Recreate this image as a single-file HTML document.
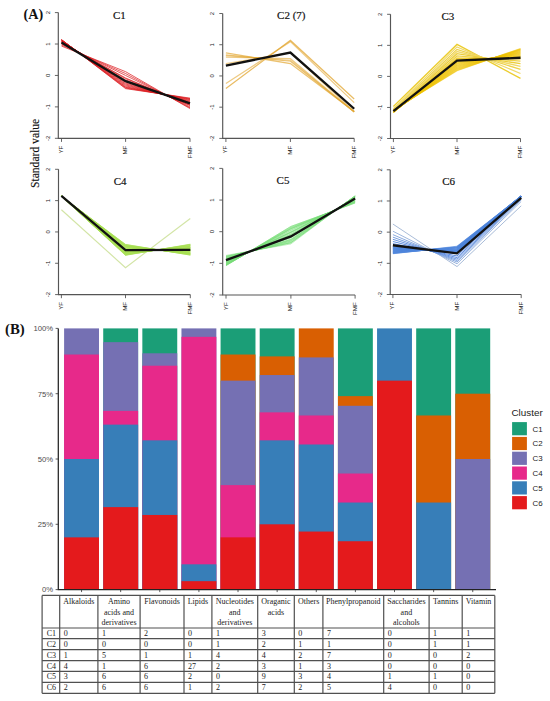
<!DOCTYPE html><html><head><meta charset="utf-8"><style>html,body{margin:0;padding:0;background:#fff;}svg{display:block;}</style></head><body>
<svg width="550" height="701" viewBox="0 0 550 701">
<rect width="550" height="701" fill="#fff"/>
<text x="23.6" y="19.2" font-family='"Liberation Serif", serif' font-weight="bold" font-size="14.2" fill="#111">(A)</text>
<text transform="translate(39.3 153.4) rotate(-90)" text-anchor="middle" font-family='"Liberation Serif", serif' font-size="11.6" fill="#111" stroke="#111" stroke-width="0.15">Standard value</text>
<polyline points="61.5,46.08 125.6,71.68 190,108.59" fill="none" stroke="#dc1a1e" stroke-opacity="0.85" stroke-width="0.85"/>
<polyline points="61.5,45.01 125.6,73.56 190,107.78" fill="none" stroke="#dc1a1e" stroke-opacity="0.85" stroke-width="0.85"/>
<polyline points="61.5,44.02 125.6,75.45 190,106.88" fill="none" stroke="#dc1a1e" stroke-opacity="0.85" stroke-width="0.85"/>
<polyline points="61.5,42.84 125.6,77.96 190,105.54" fill="none" stroke="#dc1a1e" stroke-opacity="0.85" stroke-width="0.85"/>
<polyline points="61.5,42.06 125.6,79.85 190,104.44" fill="none" stroke="#dc1a1e" stroke-opacity="0.85" stroke-width="0.85"/>
<polyline points="61.5,41.47 125.6,81.42 190,103.46" fill="none" stroke="#dc1a1e" stroke-opacity="0.85" stroke-width="0.85"/>
<polyline points="61.5,40.94 125.6,82.99 190,102.42" fill="none" stroke="#dc1a1e" stroke-opacity="0.85" stroke-width="0.85"/>
<polyline points="61.5,40.65 125.6,83.93 190,101.76" fill="none" stroke="#dc1a1e" stroke-opacity="0.85" stroke-width="0.85"/>
<polyline points="61.5,40.39 125.6,84.88 190,101.08" fill="none" stroke="#dc1a1e" stroke-opacity="0.85" stroke-width="0.85"/>
<polyline points="61.5,40.15 125.6,85.82 190,100.38" fill="none" stroke="#dc1a1e" stroke-opacity="0.85" stroke-width="0.85"/>
<polyline points="61.5,39.93 125.6,86.76 190,99.65" fill="none" stroke="#dc1a1e" stroke-opacity="0.85" stroke-width="0.85"/>
<polyline points="61.5,39.8 125.6,87.39 190,99.15" fill="none" stroke="#dc1a1e" stroke-opacity="0.85" stroke-width="0.85"/>
<polyline points="61.5,39.69 125.6,88.02 190,98.64" fill="none" stroke="#dc1a1e" stroke-opacity="0.85" stroke-width="0.85"/>
<polyline points="61.5,39.58 125.6,88.65 190,98.12" fill="none" stroke="#dc1a1e" stroke-opacity="0.85" stroke-width="0.85"/>
<polyline points="61.5,41.36 125.6,81.73 190,103.26" fill="none" stroke="#dc1a1e" stroke-opacity="0.85" stroke-width="0.85"/>
<polyline points="61.5,42.57 125.6,78.59 190,105.19" fill="none" stroke="#dc1a1e" stroke-opacity="0.85" stroke-width="0.85"/>
<polyline points="61.5,42.45 125.6,81.11 190,103.42" fill="none" stroke="#111" stroke-width="2.3" stroke-linejoin="miter"/>
<path d="M58.3 12.6 V138.3 H190" fill="none" stroke="#555555" stroke-width="1.15"/>
<path d="M54.9 12.6 H58.3" stroke="#555555" stroke-width="0.9"/>
<text transform="translate(49.8 12.6) rotate(-90)" text-anchor="middle" font-family='"Liberation Sans", sans-serif' font-size="6" fill="#222">2</text>
<path d="M54.9 44.03 H58.3" stroke="#555555" stroke-width="0.9"/>
<text transform="translate(49.8 44.03) rotate(-90)" text-anchor="middle" font-family='"Liberation Sans", sans-serif' font-size="6" fill="#222">1</text>
<path d="M54.9 75.45 H58.3" stroke="#555555" stroke-width="0.9"/>
<text transform="translate(49.8 75.45) rotate(-90)" text-anchor="middle" font-family='"Liberation Sans", sans-serif' font-size="6" fill="#222">0</text>
<path d="M54.9 106.88 H58.3" stroke="#555555" stroke-width="0.9"/>
<text transform="translate(49.8 106.88) rotate(-90)" text-anchor="middle" font-family='"Liberation Sans", sans-serif' font-size="6" fill="#222">-1</text>
<path d="M54.9 138.3 H58.3" stroke="#555555" stroke-width="0.9"/>
<text transform="translate(49.8 138.3) rotate(-90)" text-anchor="middle" font-family='"Liberation Sans", sans-serif' font-size="6" fill="#222">-2</text>
<path d="M61.5 138.3 V141.9" stroke="#555555" stroke-width="0.9"/>
<text transform="translate(63 145.6) rotate(-90)" text-anchor="end" font-family='"Liberation Sans", sans-serif' font-size="6.2" fill="#222">YF</text>
<path d="M125.6 138.3 V141.9" stroke="#555555" stroke-width="0.9"/>
<text transform="translate(127.1 145.6) rotate(-90)" text-anchor="end" font-family='"Liberation Sans", sans-serif' font-size="6.2" fill="#222">MF</text>
<path d="M190 138.3 V141.9" stroke="#555555" stroke-width="0.9"/>
<text transform="translate(191.5 145.6) rotate(-90)" text-anchor="end" font-family='"Liberation Sans", sans-serif' font-size="6.2" fill="#222">FMF</text>
<text x="119.3" y="19" text-anchor="middle" font-family='"Liberation Serif", serif' font-size="11" fill="#111" stroke="#111" stroke-width="0.18">C1</text>
<polyline points="225.9,88.41 290.4,40.42 354.2,99.02" fill="none" stroke="#e2a630" stroke-opacity="0.75" stroke-width="1.25"/>
<polyline points="225.9,83.56 290.4,41.62 354.2,102.66" fill="none" stroke="#e2a630" stroke-opacity="0.6" stroke-width="1.25"/>
<polyline points="225.9,52.8 290.4,63.59 354.2,111.46" fill="none" stroke="#e2a630" stroke-opacity="0.7" stroke-width="1.25"/>
<polyline points="225.9,54.79 290.4,61.25 354.2,111.81" fill="none" stroke="#e2a630" stroke-opacity="0.6" stroke-width="1.25"/>
<polyline points="225.9,57.19 290.4,58.66 354.2,112" fill="none" stroke="#e2a630" stroke-opacity="0.6" stroke-width="1.25"/>
<polyline points="225.9,63.68 290.4,52.72 354.2,111.45" fill="none" stroke="#e2a630" stroke-opacity="0.55" stroke-width="1.25"/>
<polyline points="225.9,55.67 290.4,60.27 354.2,111.91" fill="none" stroke="#e2a630" stroke-opacity="0.5" stroke-width="1.25"/>
<polyline points="225.9,65.65 290.4,52.53 354.2,108.74" fill="none" stroke="#111" stroke-width="2.3" stroke-linejoin="miter"/>
<path d="M222.7 13.5 V138.4 H354.2" fill="none" stroke="#555555" stroke-width="1.15"/>
<path d="M219.3 13.5 H222.7" stroke="#555555" stroke-width="0.9"/>
<text transform="translate(214.2 13.5) rotate(-90)" text-anchor="middle" font-family='"Liberation Sans", sans-serif' font-size="6" fill="#222">2</text>
<path d="M219.3 44.73 H222.7" stroke="#555555" stroke-width="0.9"/>
<text transform="translate(214.2 44.73) rotate(-90)" text-anchor="middle" font-family='"Liberation Sans", sans-serif' font-size="6" fill="#222">1</text>
<path d="M219.3 75.95 H222.7" stroke="#555555" stroke-width="0.9"/>
<text transform="translate(214.2 75.95) rotate(-90)" text-anchor="middle" font-family='"Liberation Sans", sans-serif' font-size="6" fill="#222">0</text>
<path d="M219.3 107.18 H222.7" stroke="#555555" stroke-width="0.9"/>
<text transform="translate(214.2 107.18) rotate(-90)" text-anchor="middle" font-family='"Liberation Sans", sans-serif' font-size="6" fill="#222">-1</text>
<path d="M219.3 138.4 H222.7" stroke="#555555" stroke-width="0.9"/>
<text transform="translate(214.2 138.4) rotate(-90)" text-anchor="middle" font-family='"Liberation Sans", sans-serif' font-size="6" fill="#222">-2</text>
<path d="M225.9 138.4 V142" stroke="#555555" stroke-width="0.9"/>
<text transform="translate(227.4 145.7) rotate(-90)" text-anchor="end" font-family='"Liberation Sans", sans-serif' font-size="6.2" fill="#222">YF</text>
<path d="M290.4 138.4 V142" stroke="#555555" stroke-width="0.9"/>
<text transform="translate(291.9 145.7) rotate(-90)" text-anchor="end" font-family='"Liberation Sans", sans-serif' font-size="6.2" fill="#222">MF</text>
<path d="M354.2 138.4 V142" stroke="#555555" stroke-width="0.9"/>
<text transform="translate(355.7 145.7) rotate(-90)" text-anchor="end" font-family='"Liberation Sans", sans-serif' font-size="6.2" fill="#222">FMF</text>
<text x="291.3" y="19" text-anchor="middle" font-family='"Liberation Serif", serif' font-size="11" fill="#111" stroke="#111" stroke-width="0.18">C2 (7)</text>
<polyline points="393.4,106.43 457,44.42 520.5,78.36" fill="none" stroke="#eccd2e" stroke-opacity="1.0" stroke-width="1.3"/>
<polyline points="393.4,108.8 457,46.9 520.5,73.5" fill="none" stroke="#f0d96a" stroke-opacity="1.0" stroke-width="1.3"/>
<polyline points="393.4,110.32 457,49.39 520.5,69.49" fill="none" stroke="#eed24a" stroke-opacity="1.0" stroke-width="1.3"/>
<polyline points="393.4,111.21 457,51.56 520.5,66.43" fill="none" stroke="#f0d96a" stroke-opacity="1.0" stroke-width="1.3"/>
<polyline points="393.4,111.79 457,53.73 520.5,63.68" fill="none" stroke="#ecce3a" stroke-opacity="1.0" stroke-width="1.3"/>
<polyline points="393.4,112.12 457,55.91 520.5,61.17" fill="none" stroke="#eed24a" stroke-opacity="1.0" stroke-width="1.3"/>
<polyline points="393.4,112.24 457,57.77 520.5,59.19" fill="none" stroke="#eec300" stroke-opacity="0.55" stroke-width="1.1"/>
<polyline points="393.4,112.25 457,58.42 520.5,58.52" fill="none" stroke="#eec300" stroke-opacity="0.55" stroke-width="1.1"/>
<polyline points="393.4,112.25 457,59.07 520.5,57.88" fill="none" stroke="#eec300" stroke-opacity="0.55" stroke-width="1.1"/>
<polyline points="393.4,112.22 457,59.73 520.5,57.25" fill="none" stroke="#eec300" stroke-opacity="0.55" stroke-width="1.1"/>
<polyline points="393.4,112.19 457,60.38 520.5,56.63" fill="none" stroke="#eec300" stroke-opacity="0.55" stroke-width="1.1"/>
<polyline points="393.4,112.14 457,61.03 520.5,56.03" fill="none" stroke="#eec300" stroke-opacity="0.55" stroke-width="1.1"/>
<polyline points="393.4,112.07 457,61.68 520.5,55.45" fill="none" stroke="#eec300" stroke-opacity="0.55" stroke-width="1.1"/>
<polyline points="393.4,111.99 457,62.33 520.5,54.87" fill="none" stroke="#eec300" stroke-opacity="0.55" stroke-width="1.1"/>
<polyline points="393.4,111.9 457,62.99 520.5,54.31" fill="none" stroke="#eec300" stroke-opacity="0.55" stroke-width="1.1"/>
<polyline points="393.4,111.8 457,63.64 520.5,53.76" fill="none" stroke="#eec300" stroke-opacity="0.55" stroke-width="1.1"/>
<polyline points="393.4,111.68 457,64.29 520.5,53.23" fill="none" stroke="#eec300" stroke-opacity="0.55" stroke-width="1.1"/>
<polyline points="393.4,111.55 457,64.94 520.5,52.71" fill="none" stroke="#eec300" stroke-opacity="0.55" stroke-width="1.1"/>
<polyline points="393.4,111.41 457,65.59 520.5,52.2" fill="none" stroke="#eec300" stroke-opacity="0.55" stroke-width="1.1"/>
<polyline points="393.4,111.26 457,66.25 520.5,51.7" fill="none" stroke="#eec300" stroke-opacity="0.55" stroke-width="1.1"/>
<polyline points="393.4,111.09 457,66.9 520.5,51.21" fill="none" stroke="#eec300" stroke-opacity="0.55" stroke-width="1.1"/>
<polyline points="393.4,110.91 457,67.55 520.5,50.74" fill="none" stroke="#eec300" stroke-opacity="0.55" stroke-width="1.1"/>
<polyline points="393.4,110.73 457,68.2 520.5,50.27" fill="none" stroke="#eec300" stroke-opacity="0.55" stroke-width="1.1"/>
<polyline points="393.4,110.53 457,68.85 520.5,49.82" fill="none" stroke="#eec300" stroke-opacity="0.55" stroke-width="1.1"/>
<polyline points="393.4,110.32 457,69.51 520.5,49.38" fill="none" stroke="#eec300" stroke-opacity="0.55" stroke-width="1.1"/>
<polyline points="393.4,110.1 457,70.16 520.5,48.94" fill="none" stroke="#eec300" stroke-opacity="0.55" stroke-width="1.1"/>
<polyline points="393.4,109.86 457,70.81 520.5,48.52" fill="none" stroke="#eec300" stroke-opacity="0.55" stroke-width="1.1"/>
<polyline points="393.4,111.18 457,60.56 520.5,57.77" fill="none" stroke="#111" stroke-width="2.3" stroke-linejoin="miter"/>
<path d="M390.5 14.3 V138.5 H520.5" fill="none" stroke="#555555" stroke-width="1.15"/>
<path d="M387.1 14.3 H390.5" stroke="#555555" stroke-width="0.9"/>
<text transform="translate(382 14.3) rotate(-90)" text-anchor="middle" font-family='"Liberation Sans", sans-serif' font-size="6" fill="#222">2</text>
<path d="M387.1 45.35 H390.5" stroke="#555555" stroke-width="0.9"/>
<text transform="translate(382 45.35) rotate(-90)" text-anchor="middle" font-family='"Liberation Sans", sans-serif' font-size="6" fill="#222">1</text>
<path d="M387.1 76.4 H390.5" stroke="#555555" stroke-width="0.9"/>
<text transform="translate(382 76.4) rotate(-90)" text-anchor="middle" font-family='"Liberation Sans", sans-serif' font-size="6" fill="#222">0</text>
<path d="M387.1 107.45 H390.5" stroke="#555555" stroke-width="0.9"/>
<text transform="translate(382 107.45) rotate(-90)" text-anchor="middle" font-family='"Liberation Sans", sans-serif' font-size="6" fill="#222">-1</text>
<path d="M387.1 138.5 H390.5" stroke="#555555" stroke-width="0.9"/>
<text transform="translate(382 138.5) rotate(-90)" text-anchor="middle" font-family='"Liberation Sans", sans-serif' font-size="6" fill="#222">-2</text>
<path d="M393.4 138.5 V142.1" stroke="#555555" stroke-width="0.9"/>
<text transform="translate(394.9 145.8) rotate(-90)" text-anchor="end" font-family='"Liberation Sans", sans-serif' font-size="6.2" fill="#222">YF</text>
<path d="M457 138.5 V142.1" stroke="#555555" stroke-width="0.9"/>
<text transform="translate(458.5 145.8) rotate(-90)" text-anchor="end" font-family='"Liberation Sans", sans-serif' font-size="6.2" fill="#222">MF</text>
<path d="M520.5 138.5 V142.1" stroke="#555555" stroke-width="0.9"/>
<text transform="translate(522 145.8) rotate(-90)" text-anchor="end" font-family='"Liberation Sans", sans-serif' font-size="6.2" fill="#222">FMF</text>
<text x="447.8" y="19.5" text-anchor="middle" font-family='"Liberation Serif", serif' font-size="11" fill="#111" stroke="#111" stroke-width="0.18">C3</text>
<polyline points="61.4,209.71 125.5,267.66 190.3,218.48" fill="none" stroke="#d3e5a6" stroke-opacity="1.0" stroke-width="1.15"/>
<polyline points="61.4,196.3 125.5,244.45 190.3,255.09" fill="none" stroke="#a6e052" stroke-opacity="0.6" stroke-width="1.0"/>
<polyline points="61.4,196.3 125.5,244.47 190.3,255.07" fill="none" stroke="#a6e052" stroke-opacity="0.6" stroke-width="1.0"/>
<polyline points="61.4,196.15 125.5,245.41 190.3,254.3" fill="none" stroke="#a6e052" stroke-opacity="0.6" stroke-width="1.0"/>
<polyline points="61.4,196.23 125.5,244.88 190.3,254.74" fill="none" stroke="#a6e052" stroke-opacity="0.6" stroke-width="1.0"/>
<polyline points="61.4,196.09 125.5,245.76 190.3,254" fill="none" stroke="#a6e052" stroke-opacity="0.6" stroke-width="1.0"/>
<polyline points="61.4,196.09 125.5,245.78 190.3,253.98" fill="none" stroke="#a6e052" stroke-opacity="0.6" stroke-width="1.0"/>
<polyline points="61.4,196.11 125.5,245.62 190.3,254.11" fill="none" stroke="#a6e052" stroke-opacity="0.6" stroke-width="1.0"/>
<polyline points="61.4,196 125.5,246.47 190.3,253.38" fill="none" stroke="#a6e052" stroke-opacity="0.6" stroke-width="1.0"/>
<polyline points="61.4,196.05 125.5,246.1 190.3,253.7" fill="none" stroke="#a6e052" stroke-opacity="0.6" stroke-width="1.0"/>
<polyline points="61.4,195.95 125.5,246.88 190.3,253.02" fill="none" stroke="#a6e052" stroke-opacity="0.6" stroke-width="1.0"/>
<polyline points="61.4,195.98 125.5,246.64 190.3,253.23" fill="none" stroke="#a6e052" stroke-opacity="0.6" stroke-width="1.0"/>
<polyline points="61.4,195.95 125.5,246.92 190.3,252.98" fill="none" stroke="#a6e052" stroke-opacity="0.6" stroke-width="1.0"/>
<polyline points="61.4,195.88 125.5,247.61 190.3,252.36" fill="none" stroke="#a6e052" stroke-opacity="0.6" stroke-width="1.0"/>
<polyline points="61.4,195.83 125.5,248.37 190.3,251.65" fill="none" stroke="#a6e052" stroke-opacity="0.6" stroke-width="1.0"/>
<polyline points="61.4,195.87 125.5,247.71 190.3,252.27" fill="none" stroke="#a6e052" stroke-opacity="0.6" stroke-width="1.0"/>
<polyline points="61.4,195.85 125.5,248.08 190.3,251.92" fill="none" stroke="#a6e052" stroke-opacity="0.6" stroke-width="1.0"/>
<polyline points="61.4,195.8 125.5,248.84 190.3,251.2" fill="none" stroke="#a6e052" stroke-opacity="0.6" stroke-width="1.0"/>
<polyline points="61.4,195.78 125.5,249.49 190.3,250.57" fill="none" stroke="#a6e052" stroke-opacity="0.6" stroke-width="1.0"/>
<polyline points="61.4,195.79 125.5,249.26 190.3,250.8" fill="none" stroke="#a6e052" stroke-opacity="0.6" stroke-width="1.0"/>
<polyline points="61.4,195.79 125.5,249.27 190.3,250.79" fill="none" stroke="#a6e052" stroke-opacity="0.6" stroke-width="1.0"/>
<polyline points="61.4,195.78 125.5,250.24 190.3,249.83" fill="none" stroke="#a6e052" stroke-opacity="0.6" stroke-width="1.0"/>
<polyline points="61.4,195.79 125.5,249.31 190.3,250.75" fill="none" stroke="#a6e052" stroke-opacity="0.6" stroke-width="1.0"/>
<polyline points="61.4,195.78 125.5,250.56 190.3,249.5" fill="none" stroke="#a6e052" stroke-opacity="0.6" stroke-width="1.0"/>
<polyline points="61.4,195.78 125.5,250.09 190.3,249.98" fill="none" stroke="#a6e052" stroke-opacity="0.6" stroke-width="1.0"/>
<polyline points="61.4,195.78 125.5,250.15 190.3,249.93" fill="none" stroke="#a6e052" stroke-opacity="0.6" stroke-width="1.0"/>
<polyline points="61.4,195.78 125.5,250.35 190.3,249.72" fill="none" stroke="#a6e052" stroke-opacity="0.6" stroke-width="1.0"/>
<polyline points="61.4,195.79 125.5,250.82 190.3,249.24" fill="none" stroke="#a6e052" stroke-opacity="0.6" stroke-width="1.0"/>
<polyline points="61.4,195.83 125.5,251.67 190.3,248.35" fill="none" stroke="#a6e052" stroke-opacity="0.6" stroke-width="1.0"/>
<polyline points="61.4,195.8 125.5,251.13 190.3,248.92" fill="none" stroke="#a6e052" stroke-opacity="0.6" stroke-width="1.0"/>
<polyline points="61.4,195.84 125.5,251.84 190.3,248.16" fill="none" stroke="#a6e052" stroke-opacity="0.6" stroke-width="1.0"/>
<polyline points="61.4,195.86 125.5,252.14 190.3,247.84" fill="none" stroke="#a6e052" stroke-opacity="0.6" stroke-width="1.0"/>
<polyline points="61.4,195.86 125.5,252.05 190.3,247.95" fill="none" stroke="#a6e052" stroke-opacity="0.6" stroke-width="1.0"/>
<polyline points="61.4,195.89 125.5,252.48 190.3,247.47" fill="none" stroke="#a6e052" stroke-opacity="0.6" stroke-width="1.0"/>
<polyline points="61.4,195.86 125.5,252.13 190.3,247.86" fill="none" stroke="#a6e052" stroke-opacity="0.6" stroke-width="1.0"/>
<polyline points="61.4,195.88 125.5,252.35 190.3,247.62" fill="none" stroke="#a6e052" stroke-opacity="0.6" stroke-width="1.0"/>
<polyline points="61.4,195.92 125.5,252.75 190.3,247.18" fill="none" stroke="#a6e052" stroke-opacity="0.6" stroke-width="1.0"/>
<polyline points="61.4,196.02 125.5,253.53 190.3,246.3" fill="none" stroke="#a6e052" stroke-opacity="0.6" stroke-width="1.0"/>
<polyline points="61.4,196.01 125.5,253.45 190.3,246.39" fill="none" stroke="#a6e052" stroke-opacity="0.6" stroke-width="1.0"/>
<polyline points="61.4,196.02 125.5,253.54 190.3,246.29" fill="none" stroke="#a6e052" stroke-opacity="0.6" stroke-width="1.0"/>
<polyline points="61.4,196.11 125.5,254.07 190.3,245.67" fill="none" stroke="#a6e052" stroke-opacity="0.6" stroke-width="1.0"/>
<polyline points="61.4,196.12 125.5,254.14 190.3,245.6" fill="none" stroke="#a6e052" stroke-opacity="0.6" stroke-width="1.0"/>
<polyline points="61.4,196.12 125.5,254.18 190.3,245.55" fill="none" stroke="#a6e052" stroke-opacity="0.6" stroke-width="1.0"/>
<polyline points="61.4,196.27 125.5,254.95 190.3,244.63" fill="none" stroke="#a6e052" stroke-opacity="0.6" stroke-width="1.0"/>
<polyline points="61.4,196.3 125.5,255.05 190.3,244.5" fill="none" stroke="#a6e052" stroke-opacity="0.6" stroke-width="1.0"/>
<polyline points="61.4,196.23 125.5,254.76 190.3,244.86" fill="none" stroke="#a6e052" stroke-opacity="0.6" stroke-width="1.0"/>
<polyline points="61.4,196.36 125.5,255.33 190.3,244.16" fill="none" stroke="#a6e052" stroke-opacity="0.6" stroke-width="1.0"/>
<polyline points="61.4,195.93 125.5,250.12 190.3,249.81" fill="none" stroke="#111" stroke-width="2.3" stroke-linejoin="miter"/>
<path d="M58.5 169.3 V294.6 H190.3" fill="none" stroke="#555555" stroke-width="1.15"/>
<path d="M55.1 169.3 H58.5" stroke="#555555" stroke-width="0.9"/>
<text transform="translate(50 169.3) rotate(-90)" text-anchor="middle" font-family='"Liberation Sans", sans-serif' font-size="6" fill="#222">2</text>
<path d="M55.1 200.62 H58.5" stroke="#555555" stroke-width="0.9"/>
<text transform="translate(50 200.62) rotate(-90)" text-anchor="middle" font-family='"Liberation Sans", sans-serif' font-size="6" fill="#222">1</text>
<path d="M55.1 231.95 H58.5" stroke="#555555" stroke-width="0.9"/>
<text transform="translate(50 231.95) rotate(-90)" text-anchor="middle" font-family='"Liberation Sans", sans-serif' font-size="6" fill="#222">0</text>
<path d="M55.1 263.28 H58.5" stroke="#555555" stroke-width="0.9"/>
<text transform="translate(50 263.28) rotate(-90)" text-anchor="middle" font-family='"Liberation Sans", sans-serif' font-size="6" fill="#222">-1</text>
<path d="M55.1 294.6 H58.5" stroke="#555555" stroke-width="0.9"/>
<text transform="translate(50 294.6) rotate(-90)" text-anchor="middle" font-family='"Liberation Sans", sans-serif' font-size="6" fill="#222">-2</text>
<path d="M61.4 294.6 V298.2" stroke="#555555" stroke-width="0.9"/>
<text transform="translate(62.9 301.9) rotate(-90)" text-anchor="end" font-family='"Liberation Sans", sans-serif' font-size="6.2" fill="#222">YF</text>
<path d="M125.5 294.6 V298.2" stroke="#555555" stroke-width="0.9"/>
<text transform="translate(127 301.9) rotate(-90)" text-anchor="end" font-family='"Liberation Sans", sans-serif' font-size="6.2" fill="#222">MF</text>
<path d="M190.3 294.6 V298.2" stroke="#555555" stroke-width="0.9"/>
<text transform="translate(191.8 301.9) rotate(-90)" text-anchor="end" font-family='"Liberation Sans", sans-serif' font-size="6.2" fill="#222">FMF</text>
<text x="120.2" y="184.5" text-anchor="middle" font-family='"Liberation Serif", serif' font-size="11" fill="#111" stroke="#111" stroke-width="0.18">C4</text>
<polyline points="226,255.43 290.9,243.91 355.1,195.76" fill="none" stroke="#77dd77" stroke-opacity="0.5" stroke-width="1.0"/>
<polyline points="226,256.22 290.9,242.91 355.1,195.97" fill="none" stroke="#77dd77" stroke-opacity="0.5" stroke-width="1.0"/>
<polyline points="226,256.46 290.9,242.6 355.1,196.04" fill="none" stroke="#77dd77" stroke-opacity="0.5" stroke-width="1.0"/>
<polyline points="226,256.38 290.9,242.71 355.1,196.02" fill="none" stroke="#77dd77" stroke-opacity="0.5" stroke-width="1.0"/>
<polyline points="226,257.5 290.9,241.22 355.1,196.38" fill="none" stroke="#77dd77" stroke-opacity="0.5" stroke-width="1.0"/>
<polyline points="226,256.98 290.9,241.92 355.1,196.2" fill="none" stroke="#77dd77" stroke-opacity="0.5" stroke-width="1.0"/>
<polyline points="226,257.68 290.9,240.98 355.1,196.45" fill="none" stroke="#77dd77" stroke-opacity="0.5" stroke-width="1.0"/>
<polyline points="226,258.39 290.9,239.97 355.1,196.73" fill="none" stroke="#77dd77" stroke-opacity="0.5" stroke-width="1.0"/>
<polyline points="226,258.15 290.9,240.31 355.1,196.64" fill="none" stroke="#77dd77" stroke-opacity="0.5" stroke-width="1.0"/>
<polyline points="226,258.85 290.9,239.31 355.1,196.94" fill="none" stroke="#77dd77" stroke-opacity="0.5" stroke-width="1.0"/>
<polyline points="226,258.77 290.9,239.42 355.1,196.9" fill="none" stroke="#77dd77" stroke-opacity="0.5" stroke-width="1.0"/>
<polyline points="226,259.73 290.9,237.99 355.1,197.38" fill="none" stroke="#77dd77" stroke-opacity="0.5" stroke-width="1.0"/>
<polyline points="226,260.16 290.9,237.33 355.1,197.61" fill="none" stroke="#77dd77" stroke-opacity="0.5" stroke-width="1.0"/>
<polyline points="226,260.32 290.9,237.07 355.1,197.71" fill="none" stroke="#77dd77" stroke-opacity="0.5" stroke-width="1.0"/>
<polyline points="226,260.92 290.9,236.1 355.1,198.08" fill="none" stroke="#77dd77" stroke-opacity="0.5" stroke-width="1.0"/>
<polyline points="226,260.75 290.9,236.38 355.1,197.97" fill="none" stroke="#77dd77" stroke-opacity="0.5" stroke-width="1.0"/>
<polyline points="226,261.4 290.9,235.29 355.1,198.41" fill="none" stroke="#77dd77" stroke-opacity="0.5" stroke-width="1.0"/>
<polyline points="226,261.63 290.9,234.91 355.1,198.57" fill="none" stroke="#77dd77" stroke-opacity="0.5" stroke-width="1.0"/>
<polyline points="226,261.92 290.9,234.39 355.1,198.79" fill="none" stroke="#77dd77" stroke-opacity="0.5" stroke-width="1.0"/>
<polyline points="226,262.12 290.9,234.03 355.1,198.95" fill="none" stroke="#77dd77" stroke-opacity="0.5" stroke-width="1.0"/>
<polyline points="226,262.71 290.9,232.94 355.1,199.45" fill="none" stroke="#77dd77" stroke-opacity="0.5" stroke-width="1.0"/>
<polyline points="226,263.07 290.9,232.25 355.1,199.78" fill="none" stroke="#77dd77" stroke-opacity="0.5" stroke-width="1.0"/>
<polyline points="226,263 290.9,232.4 355.1,199.71" fill="none" stroke="#77dd77" stroke-opacity="0.5" stroke-width="1.0"/>
<polyline points="226,263.41 290.9,231.58 355.1,200.11" fill="none" stroke="#77dd77" stroke-opacity="0.5" stroke-width="1.0"/>
<polyline points="226,263.24 290.9,231.93 355.1,199.94" fill="none" stroke="#77dd77" stroke-opacity="0.5" stroke-width="1.0"/>
<polyline points="226,263.95 290.9,230.45 355.1,200.69" fill="none" stroke="#77dd77" stroke-opacity="0.5" stroke-width="1.0"/>
<polyline points="226,264.17 290.9,230 355.1,200.94" fill="none" stroke="#77dd77" stroke-opacity="0.5" stroke-width="1.0"/>
<polyline points="226,264.63 290.9,228.95 355.1,201.51" fill="none" stroke="#77dd77" stroke-opacity="0.5" stroke-width="1.0"/>
<polyline points="226,264.76 290.9,228.67 355.1,201.67" fill="none" stroke="#77dd77" stroke-opacity="0.5" stroke-width="1.0"/>
<polyline points="226,264.65 290.9,228.92 355.1,201.53" fill="none" stroke="#77dd77" stroke-opacity="0.5" stroke-width="1.0"/>
<polyline points="226,264.94 290.9,228.23 355.1,201.93" fill="none" stroke="#77dd77" stroke-opacity="0.5" stroke-width="1.0"/>
<polyline points="226,265.32 290.9,227.29 355.1,202.49" fill="none" stroke="#77dd77" stroke-opacity="0.5" stroke-width="1.0"/>
<polyline points="226,265.16 290.9,227.69 355.1,202.25" fill="none" stroke="#77dd77" stroke-opacity="0.5" stroke-width="1.0"/>
<polyline points="226,265.62 290.9,226.52 355.1,202.96" fill="none" stroke="#77dd77" stroke-opacity="0.5" stroke-width="1.0"/>
<polyline points="226,265.66 290.9,226.41 355.1,203.03" fill="none" stroke="#77dd77" stroke-opacity="0.5" stroke-width="1.0"/>
<polyline points="226,260.19 290.9,236.45 355.1,198.47" fill="none" stroke="#111" stroke-width="2.3" stroke-linejoin="miter"/>
<path d="M222.7 168.4 V295 H355.1" fill="none" stroke="#555555" stroke-width="1.15"/>
<path d="M219.3 168.4 H222.7" stroke="#555555" stroke-width="0.9"/>
<text transform="translate(214.2 168.4) rotate(-90)" text-anchor="middle" font-family='"Liberation Sans", sans-serif' font-size="6" fill="#222">2</text>
<path d="M219.3 200.05 H222.7" stroke="#555555" stroke-width="0.9"/>
<text transform="translate(214.2 200.05) rotate(-90)" text-anchor="middle" font-family='"Liberation Sans", sans-serif' font-size="6" fill="#222">1</text>
<path d="M219.3 231.7 H222.7" stroke="#555555" stroke-width="0.9"/>
<text transform="translate(214.2 231.7) rotate(-90)" text-anchor="middle" font-family='"Liberation Sans", sans-serif' font-size="6" fill="#222">0</text>
<path d="M219.3 263.35 H222.7" stroke="#555555" stroke-width="0.9"/>
<text transform="translate(214.2 263.35) rotate(-90)" text-anchor="middle" font-family='"Liberation Sans", sans-serif' font-size="6" fill="#222">-1</text>
<path d="M219.3 295 H222.7" stroke="#555555" stroke-width="0.9"/>
<text transform="translate(214.2 295) rotate(-90)" text-anchor="middle" font-family='"Liberation Sans", sans-serif' font-size="6" fill="#222">-2</text>
<path d="M226 295 V298.6" stroke="#555555" stroke-width="0.9"/>
<text transform="translate(227.5 302.3) rotate(-90)" text-anchor="end" font-family='"Liberation Sans", sans-serif' font-size="6.2" fill="#222">YF</text>
<path d="M290.9 295 V298.6" stroke="#555555" stroke-width="0.9"/>
<text transform="translate(292.4 302.3) rotate(-90)" text-anchor="end" font-family='"Liberation Sans", sans-serif' font-size="6.2" fill="#222">MF</text>
<path d="M355.1 295 V298.6" stroke="#555555" stroke-width="0.9"/>
<text transform="translate(356.6 302.3) rotate(-90)" text-anchor="end" font-family='"Liberation Sans", sans-serif' font-size="6.2" fill="#222">FMF</text>
<text x="283" y="183.7" text-anchor="middle" font-family='"Liberation Serif", serif' font-size="11" fill="#111" stroke="#111" stroke-width="0.18">C5</text>
<polyline points="392.9,224.04 457,266.58 521.2,205.83" fill="none" stroke="#a9bcd8" stroke-opacity="1.0" stroke-width="1.0"/>
<polyline points="392.9,231.21 457,263.78 521.2,201.45" fill="none" stroke="#9db6de" stroke-opacity="1.0" stroke-width="1.0"/>
<polyline points="392.9,234.64 457,262 521.2,199.8" fill="none" stroke="#8aaade" stroke-opacity="1.0" stroke-width="1.0"/>
<polyline points="392.9,237.14 457,260.53 521.2,198.78" fill="none" stroke="#7aa0e0" stroke-opacity="1.0" stroke-width="1.0"/>
<polyline points="392.9,239.32 457,259.12 521.2,198.01" fill="none" stroke="#6d97e0" stroke-opacity="1.0" stroke-width="1.0"/>
<polyline points="392.9,241.5 457,257.58 521.2,197.37" fill="none" stroke="#6290e0" stroke-opacity="1.0" stroke-width="1.0"/>
<polyline points="392.9,243.68 457,255.91 521.2,196.85" fill="none" stroke="#5a8ae0" stroke-opacity="1.0" stroke-width="1.0"/>
<polyline points="392.9,246.49 457,253.57 521.2,196.39" fill="none" stroke="#4f86dc" stroke-opacity="0.6" stroke-width="1.1"/>
<polyline points="392.9,246.76 457,253.34 521.2,196.35" fill="none" stroke="#4f86dc" stroke-opacity="0.6" stroke-width="1.1"/>
<polyline points="392.9,247.02 457,253.1 521.2,196.32" fill="none" stroke="#4f86dc" stroke-opacity="0.6" stroke-width="1.1"/>
<polyline points="392.9,247.29 457,252.87 521.2,196.3" fill="none" stroke="#4f86dc" stroke-opacity="0.6" stroke-width="1.1"/>
<polyline points="392.9,247.55 457,252.63 521.2,196.27" fill="none" stroke="#4f86dc" stroke-opacity="0.6" stroke-width="1.1"/>
<polyline points="392.9,247.82 457,252.38 521.2,196.25" fill="none" stroke="#4f86dc" stroke-opacity="0.6" stroke-width="1.1"/>
<polyline points="392.9,248.08 457,252.14 521.2,196.23" fill="none" stroke="#4f86dc" stroke-opacity="0.6" stroke-width="1.1"/>
<polyline points="392.9,248.35 457,251.89 521.2,196.21" fill="none" stroke="#4f86dc" stroke-opacity="0.6" stroke-width="1.1"/>
<polyline points="392.9,248.62 457,251.64 521.2,196.19" fill="none" stroke="#4f86dc" stroke-opacity="0.6" stroke-width="1.1"/>
<polyline points="392.9,248.88 457,251.39 521.2,196.18" fill="none" stroke="#4f86dc" stroke-opacity="0.6" stroke-width="1.1"/>
<polyline points="392.9,249.15 457,251.13 521.2,196.17" fill="none" stroke="#4f86dc" stroke-opacity="0.6" stroke-width="1.1"/>
<polyline points="392.9,249.41 457,250.88 521.2,196.16" fill="none" stroke="#4f86dc" stroke-opacity="0.6" stroke-width="1.1"/>
<polyline points="392.9,249.68 457,250.62 521.2,196.16" fill="none" stroke="#4f86dc" stroke-opacity="0.6" stroke-width="1.1"/>
<polyline points="392.9,249.94 457,250.35 521.2,196.15" fill="none" stroke="#4f86dc" stroke-opacity="0.6" stroke-width="1.1"/>
<polyline points="392.9,250.21 457,250.09 521.2,196.15" fill="none" stroke="#4f86dc" stroke-opacity="0.6" stroke-width="1.1"/>
<polyline points="392.9,250.47 457,249.82 521.2,196.15" fill="none" stroke="#4f86dc" stroke-opacity="0.6" stroke-width="1.1"/>
<polyline points="392.9,250.74 457,249.55 521.2,196.16" fill="none" stroke="#4f86dc" stroke-opacity="0.6" stroke-width="1.1"/>
<polyline points="392.9,251.01 457,249.28 521.2,196.17" fill="none" stroke="#4f86dc" stroke-opacity="0.6" stroke-width="1.1"/>
<polyline points="392.9,251.27 457,249 521.2,196.18" fill="none" stroke="#4f86dc" stroke-opacity="0.6" stroke-width="1.1"/>
<polyline points="392.9,251.54 457,248.72 521.2,196.19" fill="none" stroke="#4f86dc" stroke-opacity="0.6" stroke-width="1.1"/>
<polyline points="392.9,251.8 457,248.44 521.2,196.2" fill="none" stroke="#4f86dc" stroke-opacity="0.6" stroke-width="1.1"/>
<polyline points="392.9,252.07 457,248.16 521.2,196.22" fill="none" stroke="#4f86dc" stroke-opacity="0.6" stroke-width="1.1"/>
<polyline points="392.9,252.33 457,247.87 521.2,196.24" fill="none" stroke="#4f86dc" stroke-opacity="0.6" stroke-width="1.1"/>
<polyline points="392.9,252.6 457,247.58 521.2,196.27" fill="none" stroke="#4f86dc" stroke-opacity="0.6" stroke-width="1.1"/>
<polyline points="392.9,252.86 457,247.29 521.2,196.3" fill="none" stroke="#4f86dc" stroke-opacity="0.6" stroke-width="1.1"/>
<polyline points="392.9,253.13 457,246.99 521.2,196.33" fill="none" stroke="#4f86dc" stroke-opacity="0.6" stroke-width="1.1"/>
<polyline points="392.9,253.4 457,246.69 521.2,196.36" fill="none" stroke="#4f86dc" stroke-opacity="0.6" stroke-width="1.1"/>
<polyline points="392.9,253.66 457,246.39 521.2,196.4" fill="none" stroke="#4f86dc" stroke-opacity="0.6" stroke-width="1.1"/>
<polyline points="392.9,245.24 457,253.35 521.2,197.86" fill="none" stroke="#111" stroke-width="2.3" stroke-linejoin="miter"/>
<path d="M390.2 169.8 V294.5 H521.2" fill="none" stroke="#555555" stroke-width="1.15"/>
<path d="M386.8 169.8 H390.2" stroke="#555555" stroke-width="0.9"/>
<text transform="translate(381.7 169.8) rotate(-90)" text-anchor="middle" font-family='"Liberation Sans", sans-serif' font-size="6" fill="#222">2</text>
<path d="M386.8 200.98 H390.2" stroke="#555555" stroke-width="0.9"/>
<text transform="translate(381.7 200.98) rotate(-90)" text-anchor="middle" font-family='"Liberation Sans", sans-serif' font-size="6" fill="#222">1</text>
<path d="M386.8 232.15 H390.2" stroke="#555555" stroke-width="0.9"/>
<text transform="translate(381.7 232.15) rotate(-90)" text-anchor="middle" font-family='"Liberation Sans", sans-serif' font-size="6" fill="#222">0</text>
<path d="M386.8 263.32 H390.2" stroke="#555555" stroke-width="0.9"/>
<text transform="translate(381.7 263.32) rotate(-90)" text-anchor="middle" font-family='"Liberation Sans", sans-serif' font-size="6" fill="#222">-1</text>
<path d="M386.8 294.5 H390.2" stroke="#555555" stroke-width="0.9"/>
<text transform="translate(381.7 294.5) rotate(-90)" text-anchor="middle" font-family='"Liberation Sans", sans-serif' font-size="6" fill="#222">-2</text>
<path d="M392.9 294.5 V298.1" stroke="#555555" stroke-width="0.9"/>
<text transform="translate(394.4 301.8) rotate(-90)" text-anchor="end" font-family='"Liberation Sans", sans-serif' font-size="6.2" fill="#222">YF</text>
<path d="M457 294.5 V298.1" stroke="#555555" stroke-width="0.9"/>
<text transform="translate(458.5 301.8) rotate(-90)" text-anchor="end" font-family='"Liberation Sans", sans-serif' font-size="6.2" fill="#222">MF</text>
<path d="M521.2 294.5 V298.1" stroke="#555555" stroke-width="0.9"/>
<text transform="translate(522.7 301.8) rotate(-90)" text-anchor="end" font-family='"Liberation Sans", sans-serif' font-size="6.2" fill="#222">FMF</text>
<text x="448.6" y="184.5" text-anchor="middle" font-family='"Liberation Serif", serif' font-size="11" fill="#111" stroke="#111" stroke-width="0.18">C6</text>
<text x="5.0" y="333.8" font-family='"Liberation Serif", serif' font-weight="bold" font-size="14.8" fill="#111">(B)</text>
<rect x="64.1" y="328.4" width="34.9" height="261.2" fill="#7570b3"/>
<rect x="64.1" y="354.52" width="34.9" height="235.08" fill="#e7298a"/>
<rect x="64.1" y="459" width="34.9" height="130.6" fill="#377eb8"/>
<rect x="64.1" y="537.36" width="34.9" height="52.24" fill="#e41a1c"/>
<path d="M81.55 589.6 V592.1" stroke="#333" stroke-width="0.8"/>
<rect x="103.22" y="328.4" width="34.9" height="261.2" fill="#1b9e77"/>
<rect x="103.22" y="342.15" width="34.9" height="247.45" fill="#7570b3"/>
<rect x="103.22" y="410.88" width="34.9" height="178.72" fill="#e7298a"/>
<rect x="103.22" y="424.63" width="34.9" height="164.97" fill="#377eb8"/>
<rect x="103.22" y="507.12" width="34.9" height="82.48" fill="#e41a1c"/>
<path d="M120.67 589.6 V592.1" stroke="#333" stroke-width="0.8"/>
<rect x="142.34" y="328.4" width="34.9" height="261.2" fill="#1b9e77"/>
<rect x="142.34" y="353.28" width="34.9" height="236.32" fill="#7570b3"/>
<rect x="142.34" y="365.71" width="34.9" height="223.89" fill="#e7298a"/>
<rect x="142.34" y="440.34" width="34.9" height="149.26" fill="#377eb8"/>
<rect x="142.34" y="514.97" width="34.9" height="74.63" fill="#e41a1c"/>
<path d="M159.79 589.6 V592.1" stroke="#333" stroke-width="0.8"/>
<rect x="181.46" y="328.4" width="34.9" height="261.2" fill="#7570b3"/>
<rect x="181.46" y="336.83" width="34.9" height="252.77" fill="#e7298a"/>
<rect x="181.46" y="564.32" width="34.9" height="25.28" fill="#377eb8"/>
<rect x="181.46" y="581.17" width="34.9" height="8.43" fill="#e41a1c"/>
<path d="M198.91 589.6 V592.1" stroke="#333" stroke-width="0.8"/>
<rect x="220.58" y="328.4" width="34.9" height="261.2" fill="#1b9e77"/>
<rect x="220.58" y="354.52" width="34.9" height="235.08" fill="#d95f02"/>
<rect x="220.58" y="380.64" width="34.9" height="208.96" fill="#7570b3"/>
<rect x="220.58" y="485.12" width="34.9" height="104.48" fill="#e7298a"/>
<rect x="220.58" y="537.36" width="34.9" height="52.24" fill="#e41a1c"/>
<path d="M238.03 589.6 V592.1" stroke="#333" stroke-width="0.8"/>
<rect x="259.7" y="328.4" width="34.9" height="261.2" fill="#1b9e77"/>
<rect x="259.7" y="356.39" width="34.9" height="233.21" fill="#d95f02"/>
<rect x="259.7" y="375.04" width="34.9" height="214.56" fill="#7570b3"/>
<rect x="259.7" y="412.36" width="34.9" height="177.24" fill="#e7298a"/>
<rect x="259.7" y="440.34" width="34.9" height="149.26" fill="#377eb8"/>
<rect x="259.7" y="524.3" width="34.9" height="65.3" fill="#e41a1c"/>
<path d="M277.15 589.6 V592.1" stroke="#333" stroke-width="0.8"/>
<rect x="298.82" y="328.4" width="34.9" height="261.2" fill="#d95f02"/>
<rect x="298.82" y="357.42" width="34.9" height="232.18" fill="#7570b3"/>
<rect x="298.82" y="415.47" width="34.9" height="174.13" fill="#e7298a"/>
<rect x="298.82" y="444.49" width="34.9" height="145.11" fill="#377eb8"/>
<rect x="298.82" y="531.56" width="34.9" height="58.04" fill="#e41a1c"/>
<path d="M316.27 589.6 V592.1" stroke="#333" stroke-width="0.8"/>
<rect x="337.94" y="328.4" width="34.9" height="261.2" fill="#1b9e77"/>
<rect x="337.94" y="396.12" width="34.9" height="193.48" fill="#d95f02"/>
<rect x="337.94" y="405.79" width="34.9" height="183.81" fill="#7570b3"/>
<rect x="337.94" y="473.51" width="34.9" height="116.09" fill="#e7298a"/>
<rect x="337.94" y="502.53" width="34.9" height="87.07" fill="#377eb8"/>
<rect x="337.94" y="541.23" width="34.9" height="48.37" fill="#e41a1c"/>
<path d="M355.39 589.6 V592.1" stroke="#333" stroke-width="0.8"/>
<rect x="377.06" y="328.4" width="34.9" height="261.2" fill="#377eb8"/>
<rect x="377.06" y="380.64" width="34.9" height="208.96" fill="#e41a1c"/>
<path d="M394.51 589.6 V592.1" stroke="#333" stroke-width="0.8"/>
<rect x="416.18" y="328.4" width="34.9" height="261.2" fill="#1b9e77"/>
<rect x="416.18" y="415.47" width="34.9" height="174.13" fill="#d95f02"/>
<rect x="416.18" y="502.53" width="34.9" height="87.07" fill="#377eb8"/>
<path d="M433.63 589.6 V592.1" stroke="#333" stroke-width="0.8"/>
<rect x="455.3" y="328.4" width="34.9" height="261.2" fill="#1b9e77"/>
<rect x="455.3" y="393.7" width="34.9" height="195.9" fill="#d95f02"/>
<rect x="455.3" y="459" width="34.9" height="130.6" fill="#7570b3"/>
<path d="M472.75 589.6 V592.1" stroke="#333" stroke-width="0.8"/>
<path d="M58.3 328.4 V589.6 H496" fill="none" stroke="#222" stroke-width="1.25"/>
<path d="M55.6 589.6 H58.3" stroke="#333" stroke-width="0.8"/>
<text x="53.2" y="592.4" text-anchor="end" font-family='"Liberation Sans", sans-serif' font-size="7.7" fill="#4d4d4d">0%</text>
<path d="M55.6 524.3 H58.3" stroke="#333" stroke-width="0.8"/>
<text x="53.2" y="527.1" text-anchor="end" font-family='"Liberation Sans", sans-serif' font-size="7.7" fill="#4d4d4d">25%</text>
<path d="M55.6 459 H58.3" stroke="#333" stroke-width="0.8"/>
<text x="53.2" y="461.8" text-anchor="end" font-family='"Liberation Sans", sans-serif' font-size="7.7" fill="#4d4d4d">50%</text>
<path d="M55.6 393.7 H58.3" stroke="#333" stroke-width="0.8"/>
<text x="53.2" y="396.5" text-anchor="end" font-family='"Liberation Sans", sans-serif' font-size="7.7" fill="#4d4d4d">75%</text>
<path d="M55.6 328.4 H58.3" stroke="#333" stroke-width="0.8"/>
<text x="53.2" y="331.2" text-anchor="end" font-family='"Liberation Sans", sans-serif' font-size="7.7" fill="#4d4d4d">100%</text>
<text x="511.4" y="416.3" font-family='"Liberation Sans", sans-serif' font-size="9.9" fill="#222">Cluster</text>
<rect x="512.1" y="422.1" width="14.8" height="13.2" fill="#1b9e77"/>
<text x="532.6" y="431.5" font-family='"Liberation Sans", sans-serif' font-size="7.9" fill="#222">C1</text>
<rect x="512.1" y="436.9" width="14.8" height="13.2" fill="#d95f02"/>
<text x="532.6" y="446.3" font-family='"Liberation Sans", sans-serif' font-size="7.9" fill="#222">C2</text>
<rect x="512.1" y="451.7" width="14.8" height="13.2" fill="#7570b3"/>
<text x="532.6" y="461.1" font-family='"Liberation Sans", sans-serif' font-size="7.9" fill="#222">C3</text>
<rect x="512.1" y="466.5" width="14.8" height="13.2" fill="#e7298a"/>
<text x="532.6" y="475.9" font-family='"Liberation Sans", sans-serif' font-size="7.9" fill="#222">C4</text>
<rect x="512.1" y="481.3" width="14.8" height="13.2" fill="#377eb8"/>
<text x="532.6" y="490.7" font-family='"Liberation Sans", sans-serif' font-size="7.9" fill="#222">C5</text>
<rect x="512.1" y="496.1" width="14.8" height="13.2" fill="#e41a1c"/>
<text x="532.6" y="505.5" font-family='"Liberation Sans", sans-serif' font-size="7.9" fill="#222">C6</text>
<path d="M42.1 595.4 V693.3" stroke="#505050" stroke-width="1.2"/>
<path d="M59.7 595.4 V693.3" stroke="#505050" stroke-width="1.2"/>
<path d="M97.9 595.4 V693.3" stroke="#505050" stroke-width="1.2"/>
<path d="M140.1 595.4 V693.3" stroke="#505050" stroke-width="1.2"/>
<path d="M184 595.4 V693.3" stroke="#505050" stroke-width="1.2"/>
<path d="M211.9 595.4 V693.3" stroke="#505050" stroke-width="1.2"/>
<path d="M257.7 595.4 V693.3" stroke="#505050" stroke-width="1.2"/>
<path d="M294.3 595.4 V693.3" stroke="#505050" stroke-width="1.2"/>
<path d="M322.9 595.4 V693.3" stroke="#505050" stroke-width="1.2"/>
<path d="M383.7 595.4 V693.3" stroke="#505050" stroke-width="1.2"/>
<path d="M429.1 595.4 V693.3" stroke="#505050" stroke-width="1.2"/>
<path d="M462.2 595.4 V693.3" stroke="#505050" stroke-width="1.2"/>
<path d="M494.8 595.4 V693.3" stroke="#505050" stroke-width="1.2"/>
<path d="M42.1 595.4 H494.8" stroke="#505050" stroke-width="1.2"/>
<path d="M42.1 628 H494.8" stroke="#505050" stroke-width="1.2"/>
<path d="M42.1 638.7 H494.8" stroke="#505050" stroke-width="1.2"/>
<path d="M42.1 649.7 H494.8" stroke="#505050" stroke-width="1.2"/>
<path d="M42.1 660.6 H494.8" stroke="#505050" stroke-width="1.2"/>
<path d="M42.1 671.4 H494.8" stroke="#505050" stroke-width="1.2"/>
<path d="M42.1 682.3 H494.8" stroke="#505050" stroke-width="1.2"/>
<path d="M42.1 693.3 H494.8" stroke="#505050" stroke-width="1.2"/>
<text x="78.8" y="604.1" text-anchor="middle" font-family='"Liberation Serif", serif' font-size="8" fill="#222">Alkaloids</text>
<text x="119" y="604.1" text-anchor="middle" font-family='"Liberation Serif", serif' font-size="8" fill="#222">Amino</text>
<text x="119" y="614.7" text-anchor="middle" font-family='"Liberation Serif", serif' font-size="8" fill="#222">acids and</text>
<text x="119" y="625.3" text-anchor="middle" font-family='"Liberation Serif", serif' font-size="8" fill="#222">derivatives</text>
<text x="162.05" y="604.1" text-anchor="middle" font-family='"Liberation Serif", serif' font-size="8" fill="#222">Flavonoids</text>
<text x="197.95" y="604.1" text-anchor="middle" font-family='"Liberation Serif", serif' font-size="8" fill="#222">Lipids</text>
<text x="234.8" y="604.1" text-anchor="middle" font-family='"Liberation Serif", serif' font-size="8" fill="#222">Nucleotides</text>
<text x="234.8" y="614.7" text-anchor="middle" font-family='"Liberation Serif", serif' font-size="8" fill="#222">and</text>
<text x="234.8" y="625.3" text-anchor="middle" font-family='"Liberation Serif", serif' font-size="8" fill="#222">derivatives</text>
<text x="276" y="604.1" text-anchor="middle" font-family='"Liberation Serif", serif' font-size="8" fill="#222">Oraganic</text>
<text x="276" y="614.7" text-anchor="middle" font-family='"Liberation Serif", serif' font-size="8" fill="#222">acids</text>
<text x="308.6" y="604.1" text-anchor="middle" font-family='"Liberation Serif", serif' font-size="8" fill="#222">Others</text>
<text x="353.3" y="604.1" text-anchor="middle" font-family='"Liberation Serif", serif' font-size="8" fill="#222">Phenylpropanoid</text>
<text x="406.4" y="604.1" text-anchor="middle" font-family='"Liberation Serif", serif' font-size="8" fill="#222">Saccharides</text>
<text x="406.4" y="614.7" text-anchor="middle" font-family='"Liberation Serif", serif' font-size="8" fill="#222">and</text>
<text x="406.4" y="625.3" text-anchor="middle" font-family='"Liberation Serif", serif' font-size="8" fill="#222">alcohols</text>
<text x="445.65" y="604.1" text-anchor="middle" font-family='"Liberation Serif", serif' font-size="8" fill="#222">Tannins</text>
<text x="478.5" y="604.1" text-anchor="middle" font-family='"Liberation Serif", serif' font-size="8" fill="#222">Vitamin</text>
<text x="46.7" y="636" font-family='"Liberation Serif", serif' font-size="8" fill="#222">C1</text>
<text x="63.7" y="636" font-family='"Liberation Serif", serif' font-size="8" fill="#222">0</text>
<text x="101.9" y="636" font-family='"Liberation Serif", serif' font-size="8" fill="#222">1</text>
<text x="144.1" y="636" font-family='"Liberation Serif", serif' font-size="8" fill="#222">2</text>
<text x="188" y="636" font-family='"Liberation Serif", serif' font-size="8" fill="#222">0</text>
<text x="215.9" y="636" font-family='"Liberation Serif", serif' font-size="8" fill="#222">1</text>
<text x="261.7" y="636" font-family='"Liberation Serif", serif' font-size="8" fill="#222">3</text>
<text x="298.3" y="636" font-family='"Liberation Serif", serif' font-size="8" fill="#222">0</text>
<text x="326.9" y="636" font-family='"Liberation Serif", serif' font-size="8" fill="#222">7</text>
<text x="387.7" y="636" font-family='"Liberation Serif", serif' font-size="8" fill="#222">0</text>
<text x="433.1" y="636" font-family='"Liberation Serif", serif' font-size="8" fill="#222">1</text>
<text x="466.2" y="636" font-family='"Liberation Serif", serif' font-size="8" fill="#222">1</text>
<text x="46.7" y="646.7" font-family='"Liberation Serif", serif' font-size="8" fill="#222">C2</text>
<text x="63.7" y="646.7" font-family='"Liberation Serif", serif' font-size="8" fill="#222">0</text>
<text x="101.9" y="646.7" font-family='"Liberation Serif", serif' font-size="8" fill="#222">0</text>
<text x="144.1" y="646.7" font-family='"Liberation Serif", serif' font-size="8" fill="#222">0</text>
<text x="188" y="646.7" font-family='"Liberation Serif", serif' font-size="8" fill="#222">0</text>
<text x="215.9" y="646.7" font-family='"Liberation Serif", serif' font-size="8" fill="#222">1</text>
<text x="261.7" y="646.7" font-family='"Liberation Serif", serif' font-size="8" fill="#222">2</text>
<text x="298.3" y="646.7" font-family='"Liberation Serif", serif' font-size="8" fill="#222">1</text>
<text x="326.9" y="646.7" font-family='"Liberation Serif", serif' font-size="8" fill="#222">1</text>
<text x="387.7" y="646.7" font-family='"Liberation Serif", serif' font-size="8" fill="#222">0</text>
<text x="433.1" y="646.7" font-family='"Liberation Serif", serif' font-size="8" fill="#222">1</text>
<text x="466.2" y="646.7" font-family='"Liberation Serif", serif' font-size="8" fill="#222">1</text>
<text x="46.7" y="657.7" font-family='"Liberation Serif", serif' font-size="8" fill="#222">C3</text>
<text x="63.7" y="657.7" font-family='"Liberation Serif", serif' font-size="8" fill="#222">1</text>
<text x="101.9" y="657.7" font-family='"Liberation Serif", serif' font-size="8" fill="#222">5</text>
<text x="144.1" y="657.7" font-family='"Liberation Serif", serif' font-size="8" fill="#222">1</text>
<text x="188" y="657.7" font-family='"Liberation Serif", serif' font-size="8" fill="#222">1</text>
<text x="215.9" y="657.7" font-family='"Liberation Serif", serif' font-size="8" fill="#222">4</text>
<text x="261.7" y="657.7" font-family='"Liberation Serif", serif' font-size="8" fill="#222">4</text>
<text x="298.3" y="657.7" font-family='"Liberation Serif", serif' font-size="8" fill="#222">2</text>
<text x="326.9" y="657.7" font-family='"Liberation Serif", serif' font-size="8" fill="#222">7</text>
<text x="387.7" y="657.7" font-family='"Liberation Serif", serif' font-size="8" fill="#222">0</text>
<text x="433.1" y="657.7" font-family='"Liberation Serif", serif' font-size="8" fill="#222">0</text>
<text x="466.2" y="657.7" font-family='"Liberation Serif", serif' font-size="8" fill="#222">2</text>
<text x="46.7" y="668.6" font-family='"Liberation Serif", serif' font-size="8" fill="#222">C4</text>
<text x="63.7" y="668.6" font-family='"Liberation Serif", serif' font-size="8" fill="#222">4</text>
<text x="101.9" y="668.6" font-family='"Liberation Serif", serif' font-size="8" fill="#222">1</text>
<text x="144.1" y="668.6" font-family='"Liberation Serif", serif' font-size="8" fill="#222">6</text>
<text x="188" y="668.6" font-family='"Liberation Serif", serif' font-size="8" fill="#222">27</text>
<text x="215.9" y="668.6" font-family='"Liberation Serif", serif' font-size="8" fill="#222">2</text>
<text x="261.7" y="668.6" font-family='"Liberation Serif", serif' font-size="8" fill="#222">3</text>
<text x="298.3" y="668.6" font-family='"Liberation Serif", serif' font-size="8" fill="#222">1</text>
<text x="326.9" y="668.6" font-family='"Liberation Serif", serif' font-size="8" fill="#222">3</text>
<text x="387.7" y="668.6" font-family='"Liberation Serif", serif' font-size="8" fill="#222">0</text>
<text x="433.1" y="668.6" font-family='"Liberation Serif", serif' font-size="8" fill="#222">0</text>
<text x="466.2" y="668.6" font-family='"Liberation Serif", serif' font-size="8" fill="#222">0</text>
<text x="46.7" y="679.4" font-family='"Liberation Serif", serif' font-size="8" fill="#222">C5</text>
<text x="63.7" y="679.4" font-family='"Liberation Serif", serif' font-size="8" fill="#222">3</text>
<text x="101.9" y="679.4" font-family='"Liberation Serif", serif' font-size="8" fill="#222">6</text>
<text x="144.1" y="679.4" font-family='"Liberation Serif", serif' font-size="8" fill="#222">6</text>
<text x="188" y="679.4" font-family='"Liberation Serif", serif' font-size="8" fill="#222">2</text>
<text x="215.9" y="679.4" font-family='"Liberation Serif", serif' font-size="8" fill="#222">0</text>
<text x="261.7" y="679.4" font-family='"Liberation Serif", serif' font-size="8" fill="#222">9</text>
<text x="298.3" y="679.4" font-family='"Liberation Serif", serif' font-size="8" fill="#222">3</text>
<text x="326.9" y="679.4" font-family='"Liberation Serif", serif' font-size="8" fill="#222">4</text>
<text x="387.7" y="679.4" font-family='"Liberation Serif", serif' font-size="8" fill="#222">1</text>
<text x="433.1" y="679.4" font-family='"Liberation Serif", serif' font-size="8" fill="#222">1</text>
<text x="466.2" y="679.4" font-family='"Liberation Serif", serif' font-size="8" fill="#222">0</text>
<text x="46.7" y="690.3" font-family='"Liberation Serif", serif' font-size="8" fill="#222">C6</text>
<text x="63.7" y="690.3" font-family='"Liberation Serif", serif' font-size="8" fill="#222">2</text>
<text x="101.9" y="690.3" font-family='"Liberation Serif", serif' font-size="8" fill="#222">6</text>
<text x="144.1" y="690.3" font-family='"Liberation Serif", serif' font-size="8" fill="#222">6</text>
<text x="188" y="690.3" font-family='"Liberation Serif", serif' font-size="8" fill="#222">1</text>
<text x="215.9" y="690.3" font-family='"Liberation Serif", serif' font-size="8" fill="#222">2</text>
<text x="261.7" y="690.3" font-family='"Liberation Serif", serif' font-size="8" fill="#222">7</text>
<text x="298.3" y="690.3" font-family='"Liberation Serif", serif' font-size="8" fill="#222">2</text>
<text x="326.9" y="690.3" font-family='"Liberation Serif", serif' font-size="8" fill="#222">5</text>
<text x="387.7" y="690.3" font-family='"Liberation Serif", serif' font-size="8" fill="#222">4</text>
<text x="433.1" y="690.3" font-family='"Liberation Serif", serif' font-size="8" fill="#222">0</text>
<text x="466.2" y="690.3" font-family='"Liberation Serif", serif' font-size="8" fill="#222">0</text>
</svg></body></html>
